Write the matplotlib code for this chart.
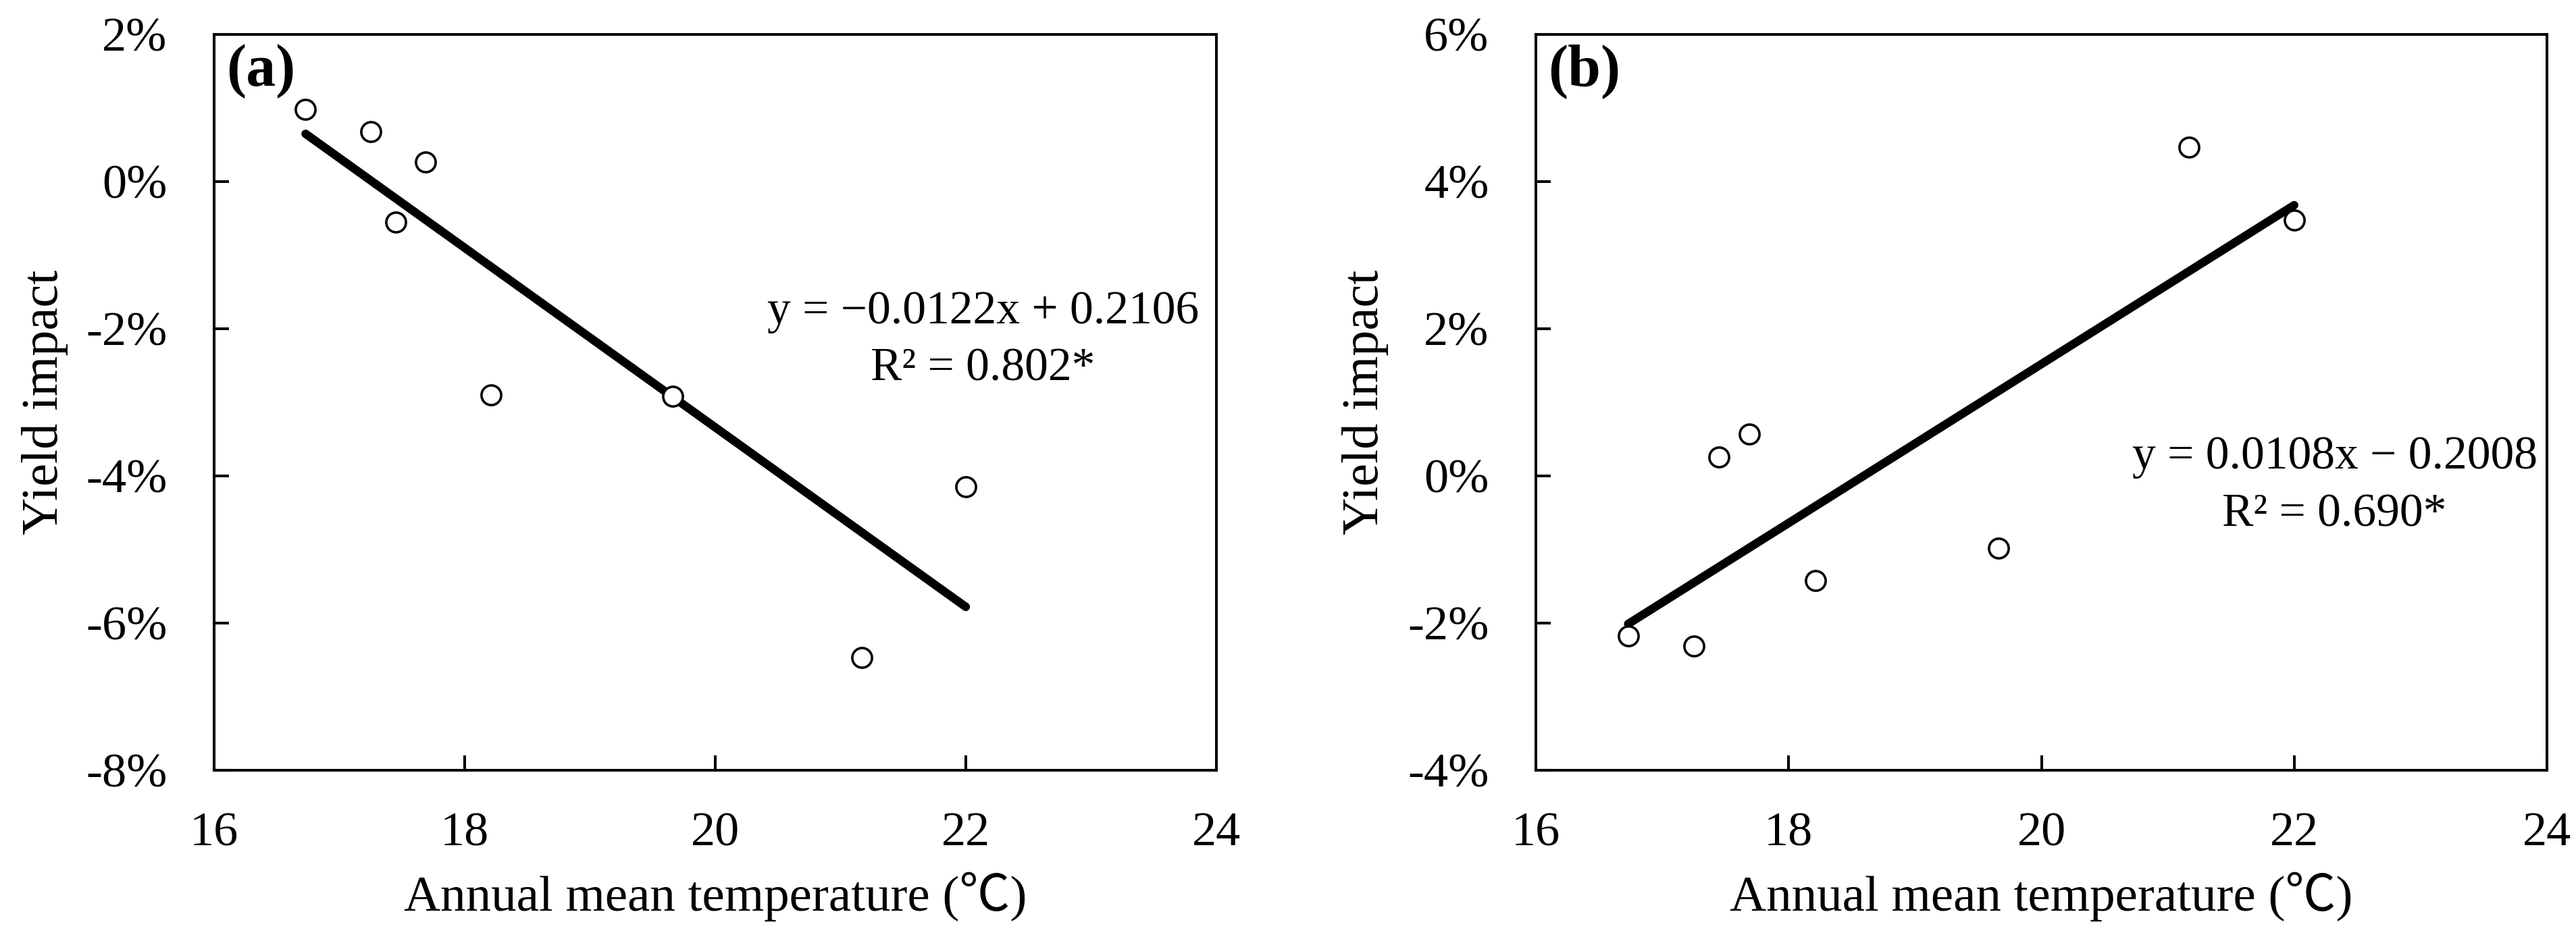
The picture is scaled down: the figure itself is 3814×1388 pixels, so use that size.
import matplotlib
matplotlib.use("Agg")
import matplotlib.pyplot as plt
from matplotlib.ticker import PercentFormatter, MultipleLocator

plt.rcParams['font.family'] = ['Liberation Serif', 'Noto Sans CJK SC', 'DejaVu Sans']
plt.rcParams['axes.unicode_minus'] = False

# annual mean temperature (deg C) of the eight sites, same for both panels
temp = [16.73, 17.25, 17.45, 17.69, 18.21, 19.66, 21.17, 22.00]
impact_a = [0.0098, 0.0068, -0.0055, 0.0027, -0.0290, -0.0292, -0.0647, -0.0415]
impact_b = [-0.0217, -0.0231, 0.0026, 0.0057, -0.0142, -0.0098, 0.0447, 0.0348]

fit_a = (-0.0122, 0.2106)
fit_b = (0.0108, -0.2008)
eq_a = "y = \u22120.0122x + 0.2106\nR\u00b2 = 0.802*"
eq_b = "y = 0.0108x \u2212 0.2008\nR\u00b2 = 0.690*"

ylim_a = (-0.08, 0.02)
ylim_b = (-0.04, 0.06)

W, H = 3814, 1388
fig = plt.figure(figsize=(W / 100, H / 100), dpi=100)

bottom = 1 - 1141 / H
height = 1090 / H
ax1 = fig.add_axes([317 / W, bottom, 1484 / W, height])
ax2 = fig.add_axes([2274 / W, bottom, 1497 / W, height])

panels = [
    (ax1, impact_a, fit_a, eq_a, ylim_a, "(a)", (0.767, 0.584)),
    (ax2, impact_b, fit_b, eq_b, ylim_b, "(b)", (0.790, 0.386)),
]

for ax, yy, fit, eq, ylim, tag, eqpos in panels:
    xs = [min(temp), max(temp)]
    ax.plot(xs, [fit[0] * v + fit[1] for v in xs], color='black', lw=9,
            solid_capstyle='round', zorder=2)
    ax.plot(temp, yy, 'o', mfc='white', mec='black', ms=21, mew=2.6, zorder=3)

    ax.set_xlim(16, 24)
    ax.set_ylim(*ylim)
    ax.xaxis.set_major_locator(MultipleLocator(2))
    ax.yaxis.set_major_locator(MultipleLocator(0.02))
    ax.yaxis.set_major_formatter(PercentFormatter(1.0, decimals=0))

    for s in ax.spines.values():
        s.set_linewidth(2.9)
    ax.tick_params(direction='in', length=16, width=2.9, labelsize=52)
    ax.tick_params(axis='x', pad=44)
    ax.tick_params(axis='y', pad=50)

    ax.set_xlabel("Annual mean temperature (\u2103)", fontsize=54)
    ax.xaxis.label.set_va('center')
    ax.xaxis.set_label_coords(0.5, -0.172)
    ax.set_ylabel("Yield impact", fontsize=55)
    ax.yaxis.label.set_va('center')
    ax.yaxis.set_label_coords(-0.169, 0.5)

    ax.text(0.012, 0.95, tag, transform=ax.transAxes, fontsize=63,
            fontweight='bold', ha='left', va='center')
    ax.text(eqpos[0], eqpos[1], eq, transform=ax.transAxes, fontsize=50,
            ha='center', va='center', linespacing=1.45)

fig.savefig("out.png", dpi=100, facecolor='white')
